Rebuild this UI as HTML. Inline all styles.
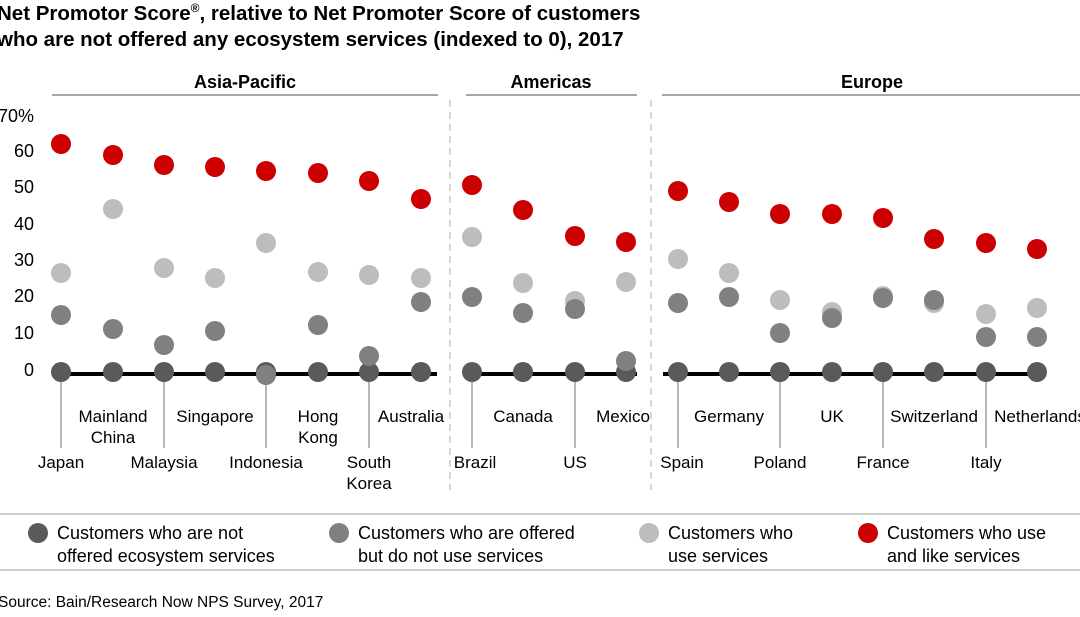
<!DOCTYPE html>
<html><head><meta charset="utf-8"><style>
body{margin:0;background:#fff}
svg text{font-family:"Liberation Sans",Arial,sans-serif}
</style></head><body>
<svg width="1080" height="612" viewBox="0 0 1080 612" xmlns="http://www.w3.org/2000/svg">
<text x="-3" y="20" font-size="20.5" font-weight="bold" fill="#000">Net Promotor Score<tspan font-size="12" dy="-8">®</tspan><tspan dy="8">, relative to Net Promoter Score of customers</tspan></text>
<text x="-3" y="46" font-size="20.5" font-weight="bold" fill="#000">who are not offered any ecosystem services (indexed to 0), 2017</text>
<g font-size="18" font-weight="bold" text-anchor="middle" fill="#000">
<text x="245" y="88">Asia-Pacific</text><text x="551" y="88">Americas</text><text x="872" y="88">Europe</text></g>
<g stroke="#888" stroke-width="1.5"><line x1="52" y1="95" x2="438" y2="95"/><line x1="466" y1="95" x2="637" y2="95"/><line x1="662" y1="95" x2="1080" y2="95"/></g>
<g stroke="#bbb" stroke-width="1.2" stroke-dasharray="7,5"><line x1="450" y1="100" x2="450" y2="490"/><line x1="651" y1="100" x2="651" y2="490"/></g>
<g font-size="18" fill="#000" text-anchor="end">
<text x="34" y="122">70%</text><text x="34" y="157">60</text><text x="34" y="193">50</text><text x="34" y="230">40</text><text x="34" y="266">30</text><text x="34" y="302">20</text><text x="34" y="339">10</text><text x="34" y="376">0</text></g>
<g stroke="#000" stroke-width="4"><line x1="52" y1="374" x2="437" y2="374"/><line x1="466" y1="374" x2="637" y2="374"/><line x1="663" y1="374" x2="1045" y2="374"/></g>
<g stroke="#888" stroke-width="1.2">
<line x1="61" y1="374" x2="61" y2="448"/><line x1="164" y1="374" x2="164" y2="448"/><line x1="266" y1="374" x2="266" y2="448"/><line x1="369" y1="374" x2="369" y2="448"/>
<line x1="472" y1="374" x2="472" y2="448"/><line x1="575" y1="374" x2="575" y2="448"/>
<line x1="678" y1="374" x2="678" y2="448"/><line x1="780" y1="374" x2="780" y2="448"/><line x1="883" y1="374" x2="883" y2="448"/><line x1="986" y1="374" x2="986" y2="448"/></g>
<g font-size="17" fill="#000" text-anchor="middle">
<text x="61" y="468">Japan</text><text x="164" y="468">Malaysia</text><text x="266" y="468">Indonesia</text><text x="369" y="468">South</text><text x="369" y="489">Korea</text>
<text x="113" y="422">Mainland</text><text x="113" y="443">China</text><text x="215" y="422">Singapore</text><text x="318" y="422">Hong</text><text x="318" y="443">Kong</text><text x="411" y="422">Australia</text>
<text x="475" y="468">Brazil</text><text x="575" y="468">US</text><text x="523" y="422">Canada</text><text x="623" y="422">Mexico</text>
<text x="682" y="468">Spain</text><text x="780" y="468">Poland</text><text x="883" y="468">France</text><text x="986" y="468">Italy</text>
<text x="729" y="422">Germany</text><text x="832" y="422">UK</text><text x="934" y="422">Switzerland</text><text x="1040" y="422">Netherlands</text></g>
<g fill="#5a5a5a">
<circle cx="61" cy="372" r="10"/><circle cx="113" cy="372" r="10"/><circle cx="164" cy="372" r="10"/><circle cx="215" cy="372" r="10"/><circle cx="266" cy="372" r="10"/><circle cx="318" cy="372" r="10"/><circle cx="369" cy="372" r="10"/><circle cx="421" cy="372" r="10"/>
<circle cx="472" cy="372" r="10"/><circle cx="523" cy="372" r="10"/><circle cx="575" cy="372" r="10"/><circle cx="626" cy="372" r="10"/>
<circle cx="678" cy="372" r="10"/><circle cx="729" cy="372" r="10"/><circle cx="780" cy="372" r="10"/><circle cx="832" cy="372" r="10"/><circle cx="883" cy="372" r="10"/><circle cx="934" cy="372" r="10"/><circle cx="986" cy="372" r="10"/><circle cx="1037" cy="372" r="10"/></g>
<g fill="#bdbdbd">
<circle cx="61" cy="273" r="10"/><circle cx="113" cy="209" r="10"/><circle cx="164" cy="268" r="10"/><circle cx="215" cy="278" r="10"/><circle cx="266" cy="243" r="10"/><circle cx="318" cy="272" r="10"/><circle cx="369" cy="275" r="10"/><circle cx="421" cy="278" r="10"/>
<circle cx="472" cy="237" r="10"/><circle cx="523" cy="283" r="10"/><circle cx="575" cy="301" r="10"/><circle cx="626" cy="282" r="10"/>
<circle cx="678" cy="259" r="10"/><circle cx="729" cy="273" r="10"/><circle cx="780" cy="300" r="10"/><circle cx="832" cy="312" r="10"/><circle cx="883" cy="296" r="10"/><circle cx="934" cy="303" r="10"/><circle cx="986" cy="314" r="10"/><circle cx="1037" cy="308" r="10"/></g>
<g fill="#808080">
<circle cx="61" cy="315" r="10"/><circle cx="113" cy="329" r="10"/><circle cx="164" cy="345" r="10"/><circle cx="215" cy="331" r="10"/><circle cx="266" cy="375" r="10"/><circle cx="318" cy="325" r="10"/><circle cx="369" cy="356" r="10"/><circle cx="421" cy="302" r="10"/>
<circle cx="472" cy="297" r="10"/><circle cx="523" cy="313" r="10"/><circle cx="575" cy="309" r="10"/><circle cx="626" cy="361" r="10"/>
<circle cx="678" cy="303" r="10"/><circle cx="729" cy="297" r="10"/><circle cx="780" cy="333" r="10"/><circle cx="832" cy="318" r="10"/><circle cx="883" cy="298" r="10"/><circle cx="934" cy="300" r="10"/><circle cx="986" cy="337" r="10"/><circle cx="1037" cy="337" r="10"/></g>
<g fill="#cc0000">
<circle cx="61" cy="144" r="10"/><circle cx="113" cy="155" r="10"/><circle cx="164" cy="165" r="10"/><circle cx="215" cy="167" r="10"/><circle cx="266" cy="171" r="10"/><circle cx="318" cy="173" r="10"/><circle cx="369" cy="181" r="10"/><circle cx="421" cy="199" r="10"/>
<circle cx="472" cy="185" r="10"/><circle cx="523" cy="210" r="10"/><circle cx="575" cy="236" r="10"/><circle cx="626" cy="242" r="10"/>
<circle cx="678" cy="191" r="10"/><circle cx="729" cy="202" r="10"/><circle cx="780" cy="214" r="10"/><circle cx="832" cy="214" r="10"/><circle cx="883" cy="218" r="10"/><circle cx="934" cy="239" r="10"/><circle cx="986" cy="243" r="10"/><circle cx="1037" cy="249" r="10"/></g>
<g stroke="#bbb" stroke-width="1.5"><line x1="0" y1="514" x2="1080" y2="514"/><line x1="0" y1="570" x2="1080" y2="570"/></g>
<circle cx="38" cy="533" r="10" fill="#5a5a5a"/><circle cx="339" cy="533" r="10" fill="#808080"/><circle cx="649" cy="533" r="10" fill="#bdbdbd"/><circle cx="868" cy="533" r="10" fill="#cc0000"/>
<g font-size="18" fill="#000">
<text x="57" y="539">Customers who are not</text><text x="57" y="562">offered ecosystem services</text>
<text x="358" y="539">Customers who are offered</text><text x="358" y="562">but do not use services</text>
<text x="668" y="539">Customers who</text><text x="668" y="562">use services</text>
<text x="887" y="539">Customers who use</text><text x="887" y="562">and like services</text></g>
<text x="-2" y="607" font-size="15.5" fill="#000">Source: Bain/Research Now NPS Survey, 2017</text>
</svg>
</body></html>
